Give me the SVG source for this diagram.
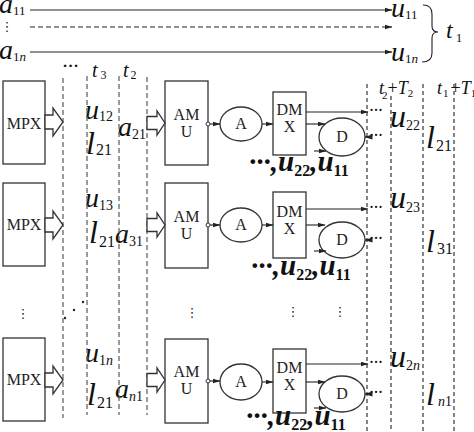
<svg xmlns="http://www.w3.org/2000/svg" width="474" height="432" viewBox="0 0 474 432">
<defs>
<marker id="ah" markerWidth="8" markerHeight="6" refX="7.5" refY="3" orient="auto" markerUnits="userSpaceOnUse"><path d="M0,0.6 L8,3 L0,5.4 z" fill="#222"/></marker>
<style>
.box{fill:#fff;stroke:#333;stroke-width:1.3}
.ln{fill:none;stroke:#222;stroke-width:1.1}
.ar{fill:none;stroke:#222;stroke-width:1.1;marker-end:url(#ah)}
.dl{fill:none;stroke:#666;stroke-width:1.3;stroke-dasharray:5 3}
.dr{fill:none;stroke:#222;stroke-width:1.1;stroke-dasharray:4 3}
.da{fill:none;stroke:#222;stroke-width:1.1;stroke-dasharray:5 3;marker-end:url(#ah)}
.hol{fill:#fff;stroke:#333;stroke-width:1.3;stroke-linejoin:miter}
.sc{fill:#fff;stroke:#333;stroke-width:1}
.lbl{font-family:"Liberation Serif","Times New Roman",serif;font-size:16px;text-anchor:middle;fill:#222}
.m{font-family:"Liberation Serif","Times New Roman",serif;font-style:italic;fill:#111}
.s{font-style:normal}
.b{font-weight:bold}
.dot{font-family:"DejaVu Sans",sans-serif;font-size:13px;fill:#222;text-anchor:middle}
</style>
</defs>

<!-- top inputs/outputs -->
<g id="top">
<text class="m" x="-1" y="13" font-size="28">a<tspan class="s" font-size="13" dy="2">11</tspan></text>
<text class="dot" x="7" y="31">⋮</text>
<text class="m" x="-1" y="59" font-size="28">a<tspan font-size="13" dy="2"><tspan class="s">1</tspan>n</tspan></text>
<text class="m" x="391" y="17" font-size="28">u<tspan class="s" font-size="13" dy="2">11</tspan></text>
<text class="m" x="391" y="61" font-size="28">u<tspan font-size="13" dy="2"><tspan class="s">1</tspan>n</tspan></text>
<path class="ln" d="M423,5 Q432,5 432,14 L432,26 Q432,32 438,32 Q432,32 432,38 L432,53 Q432,62 422,62"/>
<text class="m" x="446" y="38" font-size="24">t<tspan class="s" font-size="13" dx="3" dy="4">1</tspan></text>
</g>

<!-- time labels -->
<g id="timelabels">
<text class="m" x="62" y="73" font-size="22">···</text>
<text class="m" x="92" y="77" font-size="20">t<tspan class="s" font-size="12" dx="3" dy="2">3</tspan></text>
<text class="m" x="123" y="77" font-size="20">t<tspan class="s" font-size="12" dx="2" dy="2">2</tspan></text>
<text class="m" x="379" y="94" font-size="18">t<tspan class="s" font-size="11" dx="-2" dy="5">2</tspan><tspan class="s" dy="-5">+</tspan>T<tspan class="s" font-size="11" dy="3">2</tspan></text>
<text class="m" x="437" y="94" font-size="18">t<tspan class="s" font-size="11" dx="1" dy="3">1</tspan><tspan class="s" dx="2" dy="-3">+</tspan>T<tspan class="s" font-size="11" dy="3">1</tspan></text>
</g>

<!-- row 1 -->
<g id="mpx1"><rect class="box" x="3" y="81" width="42" height="83"/><text class="lbl" x="24" y="129">MPX</text></g>
<g id="amu1"><rect class="box" x="165" y="81" width="43" height="84"/><text class="lbl" x="186.5" y="120">AM</text><text class="lbl" x="186.5" y="137">U</text></g>
<g id="a1"><ellipse class="box" cx="241" cy="124" rx="21" ry="17"/><text class="lbl" x="241" y="129" font-size="15">A</text></g>
<g id="dmx1"><rect class="box" x="273" y="92" width="33" height="63"/><text class="lbl" x="289.5" y="115">DM</text><text class="lbl" x="289.5" y="132">X</text></g>
<g id="d1"><ellipse class="box" cx="342" cy="137" rx="23" ry="19"/><text class="lbl" x="342" y="142" font-size="15">D</text></g>
<g id="labels1">
<text class="m" x="85" y="119" font-size="28">u<tspan class="s" font-size="14" dy="2">12</tspan></text>
<text class="m" x="86" y="154" font-size="32">l<tspan class="s" font-size="16" dx="1" dy="1">21</tspan></text>
<text class="m" x="118" y="136" font-size="28">a<tspan class="s" font-size="14" dy="3">21</tspan></text>
<text class="m" x="390" y="127" font-size="32">u<tspan class="s" font-size="14" dy="3">22</tspan></text>
<text class="m" x="426" y="148" font-size="32">l<tspan class="s" font-size="16" dx="1" dy="3">21</tspan></text>
<text class="m b" x="249" y="171" font-size="29">···,u<tspan class="s" font-size="16" dy="5">22</tspan><tspan dy="-5">,u</tspan><tspan class="s" font-size="16" dy="5">11</tspan></text>
<text class="m" x="369" y="116" font-size="18">···</text>
<text class="m" x="369" y="141" font-size="18">···</text>
</g>

<!-- row 2 -->
<g id="mpx2"><rect class="box" x="3" y="183" width="42" height="83"/><text class="lbl" x="24" y="230">MPX</text></g>
<g id="amu2"><rect class="box" x="165" y="183" width="43" height="85"/><text class="lbl" x="186.5" y="222">AM</text><text class="lbl" x="186.5" y="239">U</text></g>
<g id="a2"><ellipse class="box" cx="241" cy="225" rx="21" ry="17"/><text class="lbl" x="241" y="230" font-size="15">A</text></g>
<g id="dmx2"><rect class="box" x="273" y="192" width="33" height="66"/><text class="lbl" x="289.5" y="217">DM</text><text class="lbl" x="289.5" y="234">X</text></g>
<g id="d2"><ellipse class="box" cx="342" cy="240" rx="23" ry="18"/><text class="lbl" x="342" y="245" font-size="15">D</text></g>
<g id="labels2">
<text class="m" x="85" y="207" font-size="28">u<tspan class="s" font-size="14" dy="3">13</tspan></text>
<text class="m" x="89" y="243" font-size="32">l<tspan class="s" font-size="16" dx="1" dy="4">21</tspan></text>
<text class="m" x="115" y="243" font-size="28">a<tspan class="s" font-size="14" dy="3">31</tspan></text>
<text class="m" x="390" y="208" font-size="32">u<tspan class="s" font-size="14" dy="4">23</tspan></text>
<text class="m" x="426" y="252" font-size="32">l<tspan class="s" font-size="16" dx="2" dy="2">31</tspan></text>
<text class="m b" x="251" y="275" font-size="29">···,u<tspan class="s" font-size="16" dy="5">22</tspan><tspan dy="-5">,u</tspan><tspan class="s" font-size="16" dy="5">11</tspan></text>
<text class="m" x="369" y="213" font-size="18">···</text>
<text class="m" x="369" y="244" font-size="18">···</text>
</g>

<!-- row 3 -->
<g id="mpx3"><rect class="box" x="3" y="338" width="42" height="83"/><text class="lbl" x="24" y="385">MPX</text></g>
<g id="amu3"><rect class="box" x="165" y="339" width="43" height="84"/><text class="lbl" x="186.5" y="377">AM</text><text class="lbl" x="186.5" y="394">U</text></g>
<g id="a3"><ellipse class="box" cx="241" cy="382" rx="21" ry="18"/><text class="lbl" x="241" y="387" font-size="15">A</text></g>
<g id="dmx3"><rect class="box" x="273" y="349" width="33" height="64"/><text class="lbl" x="289.5" y="373">DM</text><text class="lbl" x="289.5" y="390">X</text></g>
<g id="d3"><ellipse class="box" cx="342" cy="394" rx="23" ry="18"/><text class="lbl" x="342" y="399" font-size="15">D</text></g>
<g id="labels3">
<text class="m" x="85" y="362" font-size="28">u<tspan font-size="14" dy="3"><tspan class="s">1</tspan>n</tspan></text>
<text class="m" x="87" y="405" font-size="32">l<tspan class="s" font-size="16" dx="1" dy="3">21</tspan></text>
<text class="m" x="115" y="398" font-size="28">a<tspan font-size="14" dy="3">n<tspan class="s">1</tspan></tspan></text>
<text class="m" x="390" y="367" font-size="32">u<tspan font-size="14" dy="3"><tspan class="s">2</tspan>n</tspan></text>
<text class="m" x="426" y="405" font-size="32">l<tspan font-size="14" dx="3" dy="1">n<tspan class="s">1</tspan></tspan></text>
<text class="m b" x="246" y="425" font-size="29">···,u<tspan class="s" font-size="16" dy="5">22</tspan><tspan dy="-5">,u</tspan><tspan class="s" font-size="16" dy="5">11</tspan></text>
<text class="m" x="369" y="368" font-size="18">···</text>
<text class="m" x="369" y="398" font-size="18">···</text>
</g>

<!-- ellipsis marks -->
<g id="dots">
<text class="dot" x="23" y="318">⋮</text>
<text class="dot" x="192" y="317">⋮</text>
<text class="dot" x="293" y="316">⋮</text>
<text class="dot" x="340" y="316">⋮</text>
<circle cx="65" cy="318" r="1.2" fill="#222"/>
<circle cx="74" cy="310" r="1.2" fill="#222"/>
<circle cx="83" cy="302" r="1.2" fill="#222"/>
</g>

<!-- connectors -->
<g id="connectors">
<path class="ar" d="M30,10 H392"/>
<path class="da" d="M30,27 H392"/>
<path class="ar" d="M30,52 H392"/>

<path class="dl" d="M63,78 V418"/>
<path class="dl" d="M87,76 V415"/>
<path class="dl" d="M119,76 V415"/>
<path class="dl" d="M147,77 V415"/>
<path class="dr" d="M367,84 V432"/>
<path class="dr" d="M391,96 V432"/>
<path class="dr" d="M423,84 V432"/>
<path class="dr" d="M454,84 V432"/>

<polygon class="hol" points="45,115 53,115 53,108 63,122 53,136 53,129 45,129"/>
<polygon class="hol" points="147,116.5 157,116.5 157,111 165,123 157,135 157,129.5 147,129.5"/>
<polygon class="hol" points="45,218 53,218 53,211 63,225 53,239 53,232 45,232"/>
<polygon class="hol" points="147,218.5 157,218.5 157,213 165,225 157,237 157,231.5 147,231.5"/>
<polygon class="hol" points="45,373 53,373 53,366 63,380 53,394 53,387 45,387"/>
<polygon class="hol" points="147,373.5 157,373.5 157,368 165,380 157,392 157,386.5 147,386.5"/>

<circle class="sc" cx="208" cy="124" r="2"/>
<path class="ar" d="M210,124 H220"/>
<path class="ar" d="M262,124 H273"/>
<path class="ar" d="M306,112 H368"/>
<path class="ar" d="M306,124 H325"/>
<path class="ar" d="M314,151 H326"/>
<path class="ar" d="M372,137 H365"/>

<circle class="sc" cx="208" cy="225" r="2"/>
<path class="ar" d="M210,225 H220"/>
<path class="ar" d="M262,225 H273"/>
<path class="ar" d="M306,209 H368"/>
<path class="ar" d="M306,225 H325"/>
<path class="ar" d="M314,251 H326"/>
<path class="ar" d="M372,240 H365"/>

<circle class="sc" cx="208" cy="381" r="2"/>
<path class="ar" d="M210,381 H220"/>
<path class="ar" d="M262,382 H273"/>
<path class="ar" d="M306,364 H368"/>
<path class="ar" d="M306,382 H325"/>
<path class="ar" d="M314,408 H326"/>
<path class="ar" d="M372,394 H365"/>
</g>
</svg>
